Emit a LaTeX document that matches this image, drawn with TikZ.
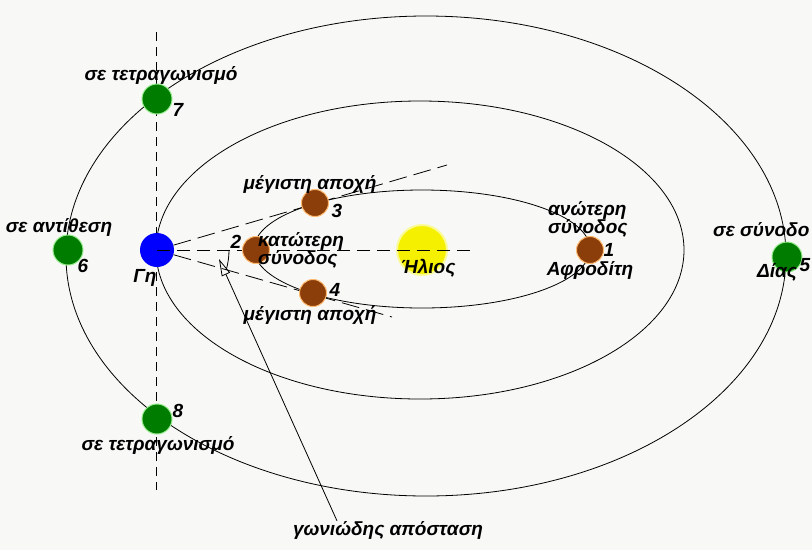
\documentclass[tikz,border=0pt]{standalone}
\usepackage{fontspec}
\setmainfont{Liberation Sans}
\usetikzlibrary{arrows.meta}
\definecolor{paper}{RGB}{248,248,246}
\definecolor{venus}{RGB}{139,62,10}
\definecolor{venusrim}{RGB}{255,185,110}
\definecolor{jupiter}{RGB}{0,125,0}
\definecolor{jupiterrim}{RGB}{150,235,140}
\definecolor{sunyellow}{RGB}{245,240,0}
\definecolor{sunglow}{RGB}{250,250,150}
\tikzset{
	orbit/.style={line width=0.8pt},
	guide/.style={line width=0.8pt,dash pattern=on 13pt off 7pt},
	vplanet/.style={circle,inner sep=0pt,minimum size=27pt,fill=venus,draw=venusrim,line width=1pt},
	jplanet/.style={circle,inner sep=0pt,minimum size=30pt,fill=jupiter,draw=jupiterrim,line width=1pt},
	lbl/.style={font=\fontsize{19}{18}\selectfont\bfseries\itshape,inner sep=0pt}
}
\begin{document}
\begin{tikzpicture}[x=1pt,y=-1pt]
			\fill[paper] (0,0) rectangle (812,550);
			\useasboundingbox (0,0) rectangle (812,550);
			\draw[orbit] (426,256) ellipse [x radius=360,y radius=240];
			\draw[orbit] (420,250) ellipse [x radius=264,y radius=149];
			\draw[orbit] (422,249) ellipse [x radius=168,y radius=59];
			\coordinate (vtop) at (156,32);
			\coordinate (vbot) at (156,490);
			\draw[guide,dash pattern=on 9pt off 6pt] (vtop)--(vbot);
			\node[circle,inner sep=0pt,minimum size=34pt,fill=blue](ge) at (157,250) {};
			\node[circle,inner sep=0pt,minimum size=50pt,fill=sunyellow,draw=sunglow,line width=2pt](sun) at (422,250) {};
			\coordinate (fsun) at (472,250);
			\coordinate (f3) at (447,165);
			\coordinate (f4) at (392,317);
			\draw[guide] (ge.center)--(fsun);
			\draw[guide,dash pattern=on 18pt off 7pt] (ge)--(f3);
			\draw[guide,dash pattern=on 18pt off 7pt] (ge)--(f4);
			\draw[orbit] (ge.center) ++(0:72) arc[start angle=0,end angle=16,radius=72];
			\node[vplanet](v1) at (590,250) {};
			\node[vplanet](v2) at (256,250) {};
			\node[vplanet](v3) at (315,203) {};
			\node[vplanet](v4) at (313,293) {};
			\node[jplanet](j5) at (787,257) {};
			\node[jplanet](j6) at (68,250) {};
			\node[jplanet](j7) at (157,99) {};
			\node[jplanet](j8) at (157,419) {};
			\node[lbl](t1) at (609,250) {1};
			\node[lbl](t2) at (236,242) {2};
			\node[lbl](t3) at (337,211) {3};
			\node[lbl](t4) at (335,290) {4};
			\node[lbl](t5) at (805,265) {5};
			\node[lbl](t6) at (83,266) {6};
			\node[lbl](t7) at (178,110) {7};
			\node[lbl](t8) at (178,411) {8};
			\node[lbl](ltop) at (161,75) {σε τετραγωνισμό};
			\node[lbl](lbot) at (158,445) {σε τετραγωνισμό};
			\node[lbl](lopp) at (59,227) {σε αντίθεση};
			\node[lbl,anchor=west](lcon) at (713,230) {σε σύνοδο};
			\node[lbl](ldias) at (777,272) {Δίας};
			\node[lbl](lge) at (145,278) {Γη};
			\node[lbl](lsun) at (428,268) {Ήλιος};
			\node[lbl,align=left,anchor=west](lsup) at (548,219) {ανώτερη\\σύνοδος};
			\node[lbl](lven) at (590,270) {Αφροδίτη};
			\node[lbl,align=left,anchor=west](linf) at (258,250) {κατώτερη\\σύνοδος};
			\node[lbl](lmax3) at (310,184) {μέγιστη αποχή};
			\node[lbl](lmax4) at (310,315) {μέγιστη αποχή};
			\node[lbl](lelo) at (388,530) {γωνιώδης απόσταση};
			\coordinate (tip) at (219,259);
			\draw[orbit,-{Triangle[open,length=17pt,width=9pt]}] ([xshift=-51pt]lelo.north)--(tip);
		\end{tikzpicture}
\end{document}
